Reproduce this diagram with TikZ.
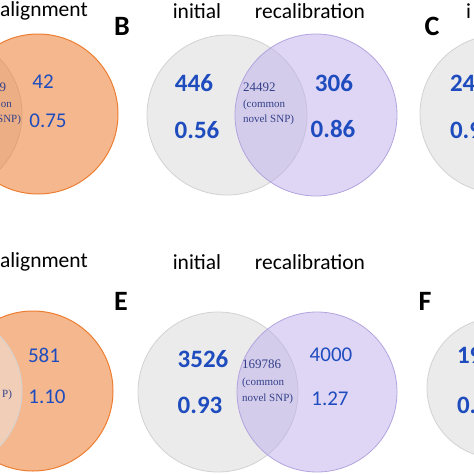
\documentclass[tikz,border=0pt]{standalone}
\usepackage{fontspec}
\setmainfont{Carlito}
\newfontfamily\timesfont{Liberation Serif}
\definecolor{vennorange}{HTML}{ED7D31}
\definecolor{venngray}{HTML}{EBEBEB}
\definecolor{venngrayline}{HTML}{D2D2D2}
\definecolor{vennpurple}{HTML}{BFAEEB}
\definecolor{vennpurpleline}{HTML}{B3A4DE}
\definecolor{numblue}{HTML}{1E4CBE}
\definecolor{commonblue}{HTML}{34418A}

\begin{document}
\begin{tikzpicture}[
		x=1pt,y=-1pt,
		every node/.style={inner sep=0pt,outer sep=0pt},
		grayset/.style={circle,fill=venngray,draw=venngrayline,line width=0.8pt},
		orangeset/.style={circle,fill=vennorange,fill opacity=0.55,draw=vennorange,line width=1pt},
		purpleset/.style={circle,fill=vennpurple,fill opacity=0.5,draw=vennpurpleline,line width=0.8pt},
		setname/.style={font=\fontsize{21.5}{24}\selectfont},
		panel/.style={font=\fontsize{28}{30}\selectfont\bfseries},
		boldnum/.style={text=numblue,font=\fontsize{25}{28}\selectfont\bfseries},
		plainnum/.style={text=numblue,font=\fontsize{21}{24}\selectfont},
		commonnum/.style={text=commonblue,font=\timesfont\fontsize{13}{15}\selectfont},
		commontext/.style={text=commonblue,font=\timesfont\fontsize{11}{13}\selectfont}
		]
		\useasboundingbox (0,0) rectangle (474,474);
		\clip (0,0) rectangle (474,474);
		
		% top row
		\node[grayset,minimum size=160pt] (initA) at (-58,114) {};
		\node[orangeset,minimum size=160pt] (alignA) at (38,114) {};
		\node[setname,anchor=west] (alignAname) at (0,11) {alignment};
		\node[plainnum] (alignAcount) at (43,82) {42};
		\node[plainnum] (alignAratio) at (48,121) {0.75};
		\node[commonnum,anchor=east] (commonAnum) at (6,87) {9};
		\node[commontext,anchor=east] (commonAa) at (12,105) {on};
		\node[commontext,anchor=east] (commonAb) at (21,120) {SNP)};
		
		\node[panel] (labB) at (122,26) {B};
		\node[grayset,minimum size=160pt] (initB) at (227,115) {};
		\node[purpleset,minimum size=162pt] (recalB) at (316,115) {};
		\node[setname] (initBname) at (197,11) {initial};
		\node[setname] (recalBname) at (310,11) {recalibration};
		\node[boldnum] (initBcount) at (194,83) {446};
		\node[boldnum] (initBratio) at (197,130) {0.56};
		\node[commonnum,anchor=west] (commonBnum) at (243,87) {24492};
		\node[commontext,anchor=west] (commonBa) at (243,105) {(common};
		\node[commontext,anchor=west] (commonBb) at (243,120) {novel SNP)};
		\node[boldnum] (recalBcount) at (334,83) {306};
		\node[boldnum] (recalBratio) at (333,129) {0.86};
		
		\node[panel] (labC) at (432,26) {C};
		\node[setname,anchor=west] (initCname) at (466,11) {i};
		\node[grayset,minimum size=158pt] (initC) at (499,114) {};
		\node[boldnum,anchor=west] (initCcount) at (450,83) {24};
		\node[boldnum,anchor=west] (initCratio) at (450,130) {0.9};
		
		% bottom row
		\node[orangeset,minimum size=160pt] (alignD) at (33,391) {};
		\node[grayset,fill opacity=0.45,minimum size=160pt] (initD) at (-58,391) {};
		\node[setname,anchor=west] (alignDname) at (0,262) {alignment};
		\node[plainnum] (alignDcount) at (44,355) {581};
		\node[plainnum] (alignDratio) at (47,397) {1.10};
		\node[commontext,anchor=east] (commonDb) at (12,395) {P)};
		
		\node[panel] (labE) at (121,301) {E};
		\node[grayset,minimum size=160pt] (initE) at (218,392) {};
		\node[purpleset,minimum size=160pt] (recalE) at (317,392) {};
		\node[setname] (initEname) at (197,262) {initial};
		\node[setname] (recalEname) at (310,262) {recalibration};
		\node[boldnum] (initEcount) at (203,359) {3526};
		\node[boldnum] (initEratio) at (200,405) {0.93};
		\node[commonnum,anchor=west] (commonEnum) at (242,364) {169786};
		\node[commontext,anchor=west] (commonEa) at (242,383) {(common};
		\node[commontext,anchor=west] (commonEb) at (242,399) {novel SNP)};
		\node[plainnum] (recalEcount) at (331,355) {4000};
		\node[plainnum] (recalEratio) at (330,399) {1.27};
		
		\node[panel] (labF) at (425,301) {F};
		\node[grayset,minimum size=140pt] (initF) at (497,388) {};
		\node[boldnum,anchor=west] (initFcount) at (457,355) {19};
		\node[boldnum,anchor=west] (initFratio) at (457,405) {0.};
		
\end{tikzpicture}
\end{document}
